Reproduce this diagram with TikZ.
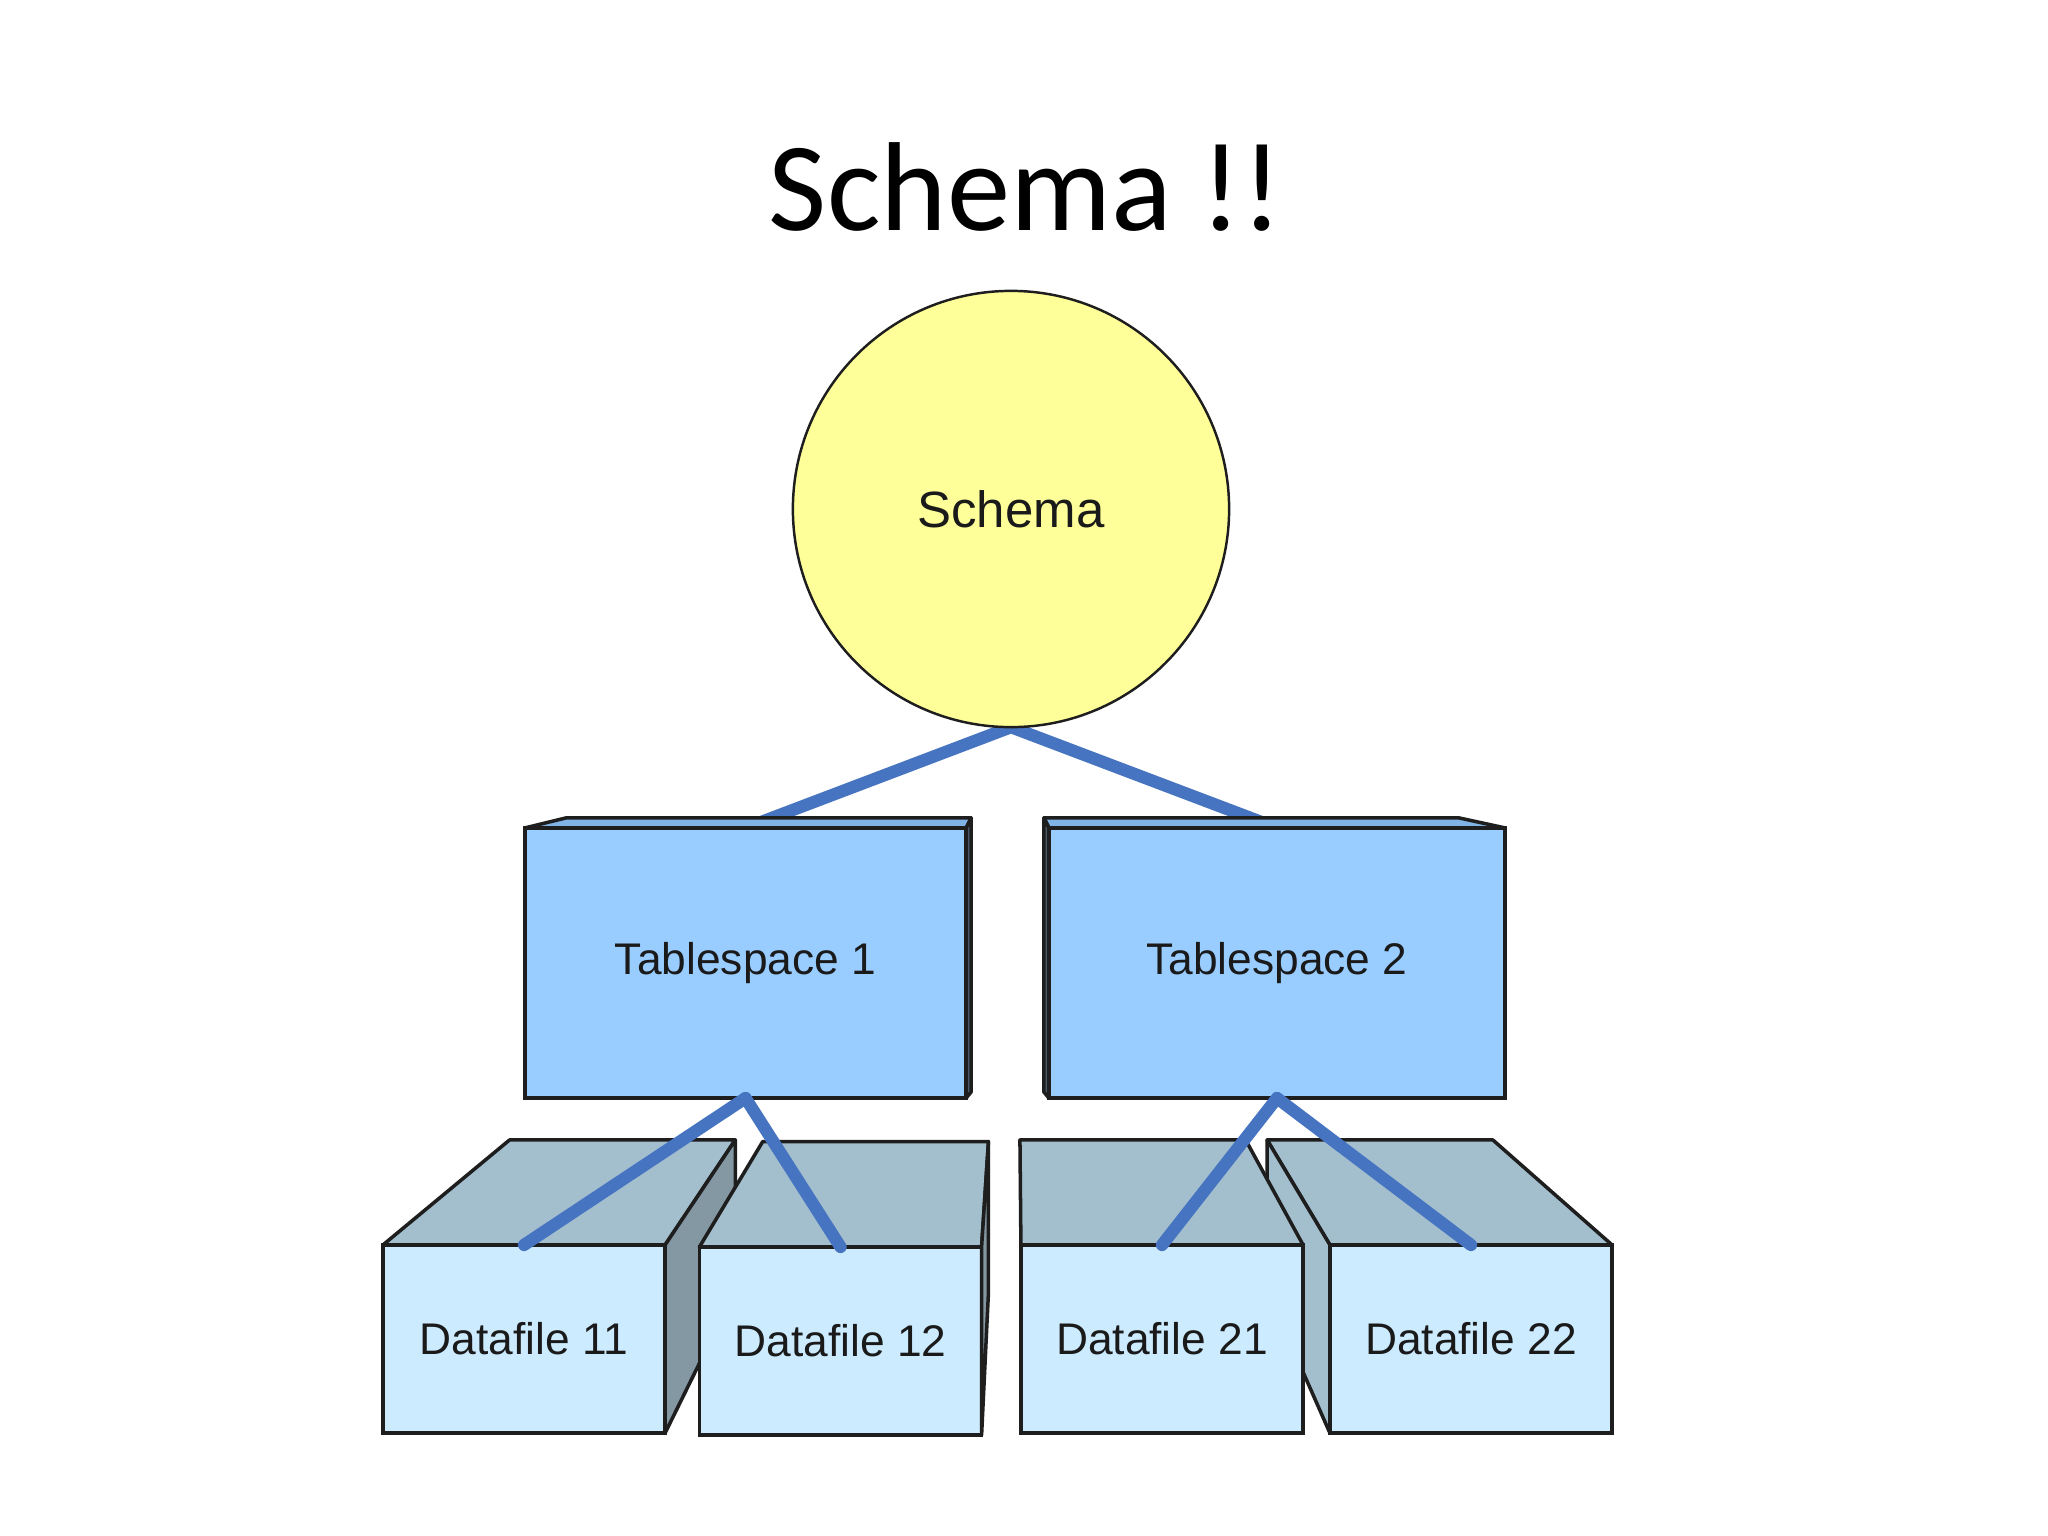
\documentclass[tikz,border=0pt]{standalone}
\usepackage{fontspec}
\setmainfont{Liberation Sans}
\newfontfamily\titlefont{Carlito}
\usetikzlibrary{calc}
\pgfdeclarelayer{paper}
\pgfdeclarelayer{bg}
\pgfsetlayers{paper,bg,main}
\definecolor{schemafill}{HTML}{FFFF99}
\definecolor{tsfill}{HTML}{99CCFF}
\definecolor{tstop}{HTML}{80B3E6}
\definecolor{tsside}{HTML}{4A5A6A}
\definecolor{dffront}{HTML}{CCEBFF}
\definecolor{dftop}{HTML}{A3BFCE}
\definecolor{dfside}{HTML}{8498A4}
\definecolor{connblue}{HTML}{4674C1}
\definecolor{edge}{HTML}{1E1E1E}
\definecolor{txt}{HTML}{1A1A1A}
\tikzset{
  titlestyle/.style={font=\titlefont\fontsize{36}{40}\selectfont, inner sep=0pt},
  schemanode/.style={circle, draw=edge, line width=0.7pt, fill=schemafill,
    minimum size=4.36cm, inner sep=0pt, outer sep=0pt, text=txt,
    font=\fontsize{14.5}{17}\selectfont},
  tsbox/.style={rectangle, draw=edge, line width=1pt, fill=tsfill,
    minimum height=2.70cm, inner sep=0pt, outer sep=0pt, text=txt,
    font=\fontsize{12.6}{14}\selectfont},
  dfbox/.style={rectangle, draw=edge, line width=1pt, fill=dffront,
    minimum width=2.82cm, minimum height=1.88cm, inner sep=0pt, outer sep=0pt,
    text=txt, font=\fontsize{12.6}{14}\selectfont},
  face/.style={draw=edge, line width=1pt, line join=round},
  conn/.style={draw=connblue, line width=3.5pt, line cap=round}
}
\newcommand\dftopface[1]{\filldraw[face, fill=dftop] (#1.north west) -- ($(#1.north west)!0.2!(vp)$) -- ($(#1.north east)!0.2!(vp)$) -- (#1.north east) -- cycle;}
\newcommand\dfrightface[1]{\filldraw[face, fill=dfside] (#1.north east) -- ($(#1.north east)!0.2!(vp)$) -- ($(#1.south east)!0.2!(vp)$) -- (#1.south east) -- cycle;}
\newcommand\dfleftface[1]{\filldraw[face, fill=dftop] (#1.north west) -- ($(#1.north west)!0.2!(vp)$) -- ($(#1.south west)!0.2!(vp)$) -- (#1.south west) -- cycle;}
\begin{document}
\begin{tikzpicture}[x=0.01cm, y=-0.01cm]
\useasboundingbox (0,0) rectangle (2048,1536);
\begin{pgfonlayer}{paper}
\fill[white] (0,0) rectangle (2048,1536);
\end{pgfonlayer}
\coordinate (vp) at (1016,720);

% title
\node[titlestyle, anchor=base] (title) at (1026,230) {Schema !!};

% schema
\node[schemanode] (schema) at (1011,509) {Schema};

% tablespaces
\node[tsbox, minimum width=4.41cm] (ts1) at (745.5,963) {Tablespace 1};
\filldraw[face, fill=tstop] (ts1.north west) -- ++(41,-10) -- ($(ts1.north east)+(5,-10)$) -- (ts1.north east) -- cycle;
\filldraw[face, fill=tsside] (ts1.north east) -- ++(5,-10) -- ++(0,274) -- (ts1.south east) -- cycle;

\node[tsbox, minimum width=4.56cm] (ts2) at (1277,963) {Tablespace 2};
\filldraw[face, fill=tstop] (ts2.north west) -- ++(-5,-10) -- ($(ts2.north east)+(-46,-10)$) -- (ts2.north east) -- cycle;
\filldraw[face, fill=tsside] (ts2.north west) -- ++(-5,-10) -- ++(0,274) -- (ts2.south west) -- cycle;

% datafiles
\node[dfbox] (df11) at (524,1339) {Datafile 11};
\dftopface{df11}
\dfrightface{df11}
\node[dfbox] (df12) at (840.5,1341) {Datafile 12};
\dftopface{df12}
\dfrightface{df12}
\node[dfbox] (df22) at (1471,1339) {Datafile 22};
\dftopface{df22}
\dfleftface{df22}
\node[dfbox] (df21) at (1162,1339) {Datafile 21};
\dftopface{df21}

% connectors
\begin{pgfonlayer}{bg}
\draw[conn] (schema.south) -- (ts1.north);
\draw[conn] (schema.south) -- (ts2.north);
\end{pgfonlayer}
\draw[conn] (ts1.south) -- (df11.north);
\draw[conn] (ts1.south) -- (df12.north);
\draw[conn] (ts2.south) -- (df21.north);
\draw[conn] (ts2.south) -- (df22.north);
\end{tikzpicture}
\end{document}
